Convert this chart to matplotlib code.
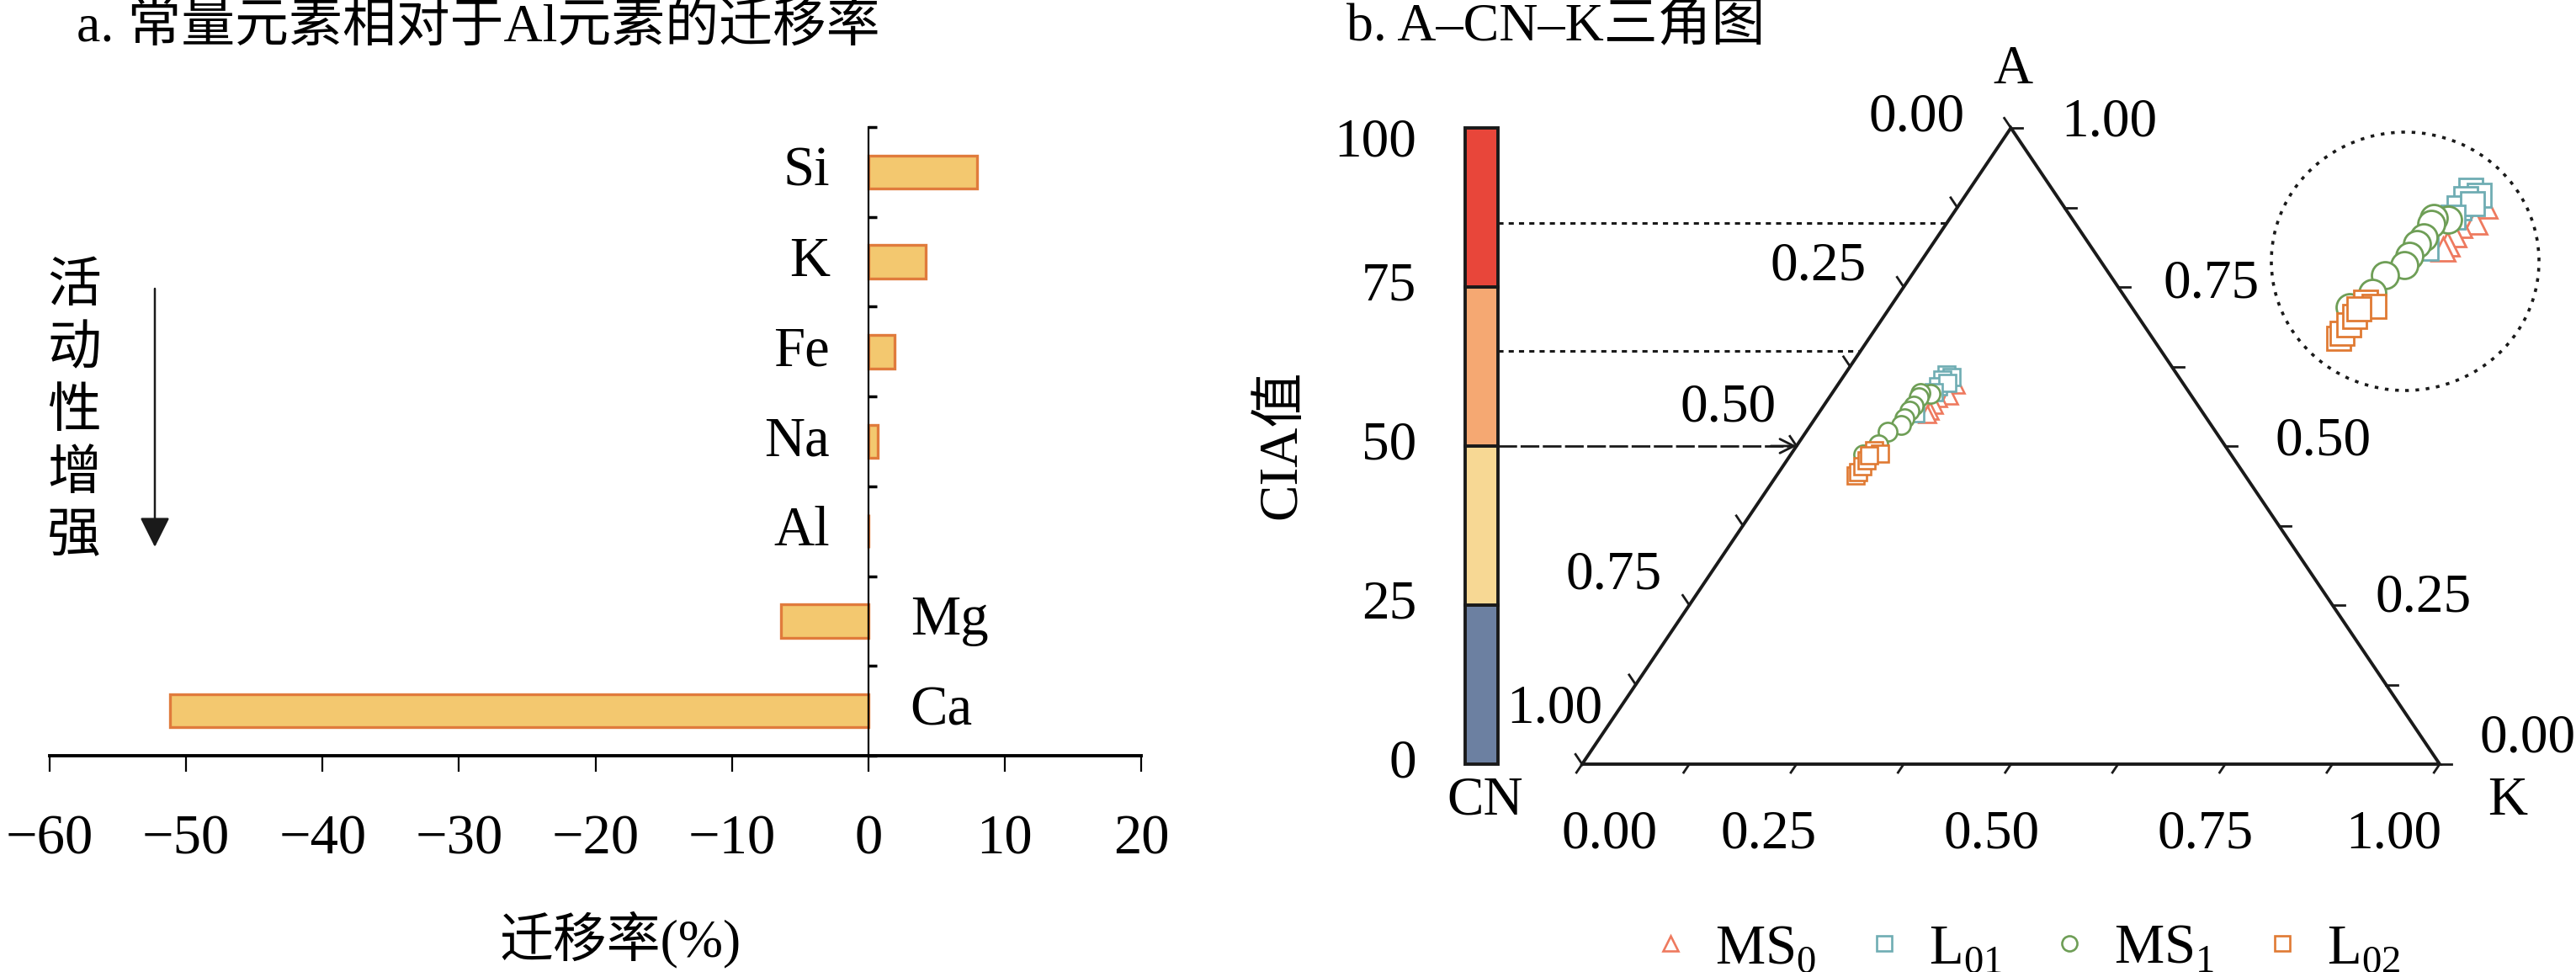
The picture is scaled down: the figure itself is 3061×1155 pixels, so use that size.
import numpy as np
import matplotlib
matplotlib.use('Agg')
import matplotlib.pyplot as plt
from matplotlib.patches import Rectangle, Ellipse
from matplotlib.lines import Line2D

plt.rcParams['font.family'] = ['Liberation Serif', 'Noto Sans CJK SC']
plt.rcParams['mathtext.fontset'] = 'custom'
plt.rcParams['mathtext.rm'] = 'Liberation Serif'

# ---- a. migration rate relative to Al ----
elements = ['Si', 'K', 'Fe', 'Na', 'Al', 'Mg', 'Ca']
migration = [8.0, 4.2, 1.9, 0.7, 0.0, -6.4, -51.2]
xticks_a = [-60, -50, -40, -30, -20, -10, 0, 10, 20]

# ---- b. A-CN-K ternary (percent A and K, CN = 100 - A - K) ----
ms0_A = [59.6, 57.9, 57.5, 56.5, 55.5, 55.0]
ms0_K = [13.8, 13.8, 12.8, 12.8, 12.8, 12.7]
l01_A = [61.3, 60.8, 60.4, 59.4, 59.9, 58.4, 55.1]
l01_K = [11.8, 12.7, 11.8, 11.8, 12.6, 11.8, 11.3]
ms1_A = [58.2, 58.3, 57.7, 56.3, 55.5, 54.3, 53.3, 52.2, 50.3, 48.7]
ms1_K = [11.5, 10.3, 10.4, 10.5, 10.4, 10.4, 10.5, 9.5, 9.4, 8.4]
l02_A = [45.4, 45.9, 46.8, 47.7, 49.3, 48.8, 48.6]
l02_K = [9.2, 9.2, 9.3, 9.3, 9.4, 10.3, 9.2]

cia_bounds = [0, 25, 50, 75, 100]
cia_colors = ['#6C80A1', '#F7D894', '#F5A872', '#E8463A']
cia_lines = [85, 65, 50]
tern_labels = ['0.00', '0.25', '0.50', '0.75', '1.00']

series = [
    ('MS$_{\\mathregular{0}}$', ms0_A, ms0_K, '^', '#EE7A5F'),
    ('L$_{\\mathregular{01}}$', l01_A, l01_K, 's', '#6FADB3'),
    ('MS$_{\\mathregular{1}}$', ms1_A, ms1_K, 'o', '#6E9E56'),
    ('L$_{\\mathregular{02}}$', l02_A, l02_K, 's', '#E07A33'),
]

W, H = 3061, 1155
fig = plt.figure(figsize=(W / 100, H / 100), dpi=100)


def px_rect(x0, y0, x1, y1):
    return [x0 / W, 1 - y1 / H, (x1 - x0) / W, (y1 - y0) / H]


def tern_xy(a, k):
    a = np.asarray(a) / 100.0
    k = np.asarray(k) / 100.0
    return k + a / 2, a


# ================= panel a =================
ax = fig.add_axes(px_rect(59, 151, 1356, 898))
ypos = np.arange(len(elements))
ax.barh(ypos, migration, height=0.37, color='#F3C86F', edgecolor='#E07B3C', linewidth=2.4)
ax.set_xlim(-60, 20)
ax.set_ylim(len(elements) - 0.5, -0.5)
ax.spines['left'].set_position(('data', 0))
ax.spines['top'].set_visible(False)
ax.spines['right'].set_visible(False)
ax.spines['bottom'].set_linewidth(2.8)
ax.spines['left'].set_linewidth(1.6)
ax.set_xticks(xticks_a)
ax.tick_params(axis='x', direction='out', length=14, width=1.6, pad=36, labelsize=48)
ax.set_yticks(np.arange(len(elements) + 1) - 0.5)
ax.set_yticklabels([])
ax.tick_params(axis='y', direction='in', length=7, width=2.5)
for y, name, v in zip(ypos, elements, migration):
    if v >= 0:
        ax.annotate(name, (0, y), xytext=(-33, 0), textcoords='offset points',
                    ha='right', va='center', fontsize=48)
    else:
        ax.annotate(name, (0, y), xytext=(36, 0), textcoords='offset points',
                    ha='left', va='center', fontsize=48)

# ================= panel b =================
x0, y0, sx, sy = 1880, 908, 1019, 756   # pixel of CN vertex, pixels per unit
left_px = 1439
ax2 = fig.add_axes(px_rect(left_px, 0, W, H))
ax2.set_xlim((left_px - x0) / sx, (W - x0) / sx)
ax2.set_ylim((y0 - H) / sy, y0 / sy)
ax2.axis('off')

ax2.plot([0, 1, 0.5, 0], [0, 0, 1, 0], color='#1a1a1a', lw=2.8, solid_joinstyle='miter')
for t in np.arange(0, 1.001, 0.125):
    ax2.plot([t, t - 0.0066], [0, -0.0132], color='#1a1a1a', lw=2.0)
    ax2.plot([1 - t / 2, 1 - t / 2 + 0.0137], [t, t], color='#1a1a1a', lw=2.0)
    ax2.plot([(1 - t) / 2, (1 - t) / 2 - 0.0077], [1 - t, 1 - t + 0.0154], color='#1a1a1a', lw=2.0)

# CIA colour bar
cb_x, cb_w = -0.1364, 0.0383
for lo, hi, c in zip(cia_bounds[:-1], cia_bounds[1:], cia_colors):
    ax2.add_patch(Rectangle((cb_x, lo / 100), cb_w, (hi - lo) / 100, facecolor=c,
                            edgecolor='#1a1a1a', lw=2.8, zorder=3))
for v in cia_bounds:
    ax2.text(cb_x - 0.057, min(v / 100, 0.977), str(v), ha='right', va='center', fontsize=47)

# guide lines from colour bar to the A-CN edge
for i, c in enumerate(cia_lines):
    yy = c / 100
    if i < 2:
        ax2.plot([cb_x + cb_w, yy / 2], [yy, yy], color='#1a1a1a', lw=2.2, linestyle=(0, (2, 2)))
    else:
        ax2.plot([cb_x + cb_w, yy / 2 - 0.01], [yy, yy], color='#1a1a1a', lw=2.0, linestyle=(0, (8, 1.5)))
        ax2.annotate('', xy=(yy / 2, yy), xytext=(yy / 2 - 0.03, yy),
                     arrowprops=dict(arrowstyle='->', lw=2.0, color='#1a1a1a', mutation_scale=30,
                                     shrinkA=0, shrinkB=0))

# data points
handles = []
for label, a, k, m, c in series:
    xs, ys = tern_xy(a, k)
    ms = 16 if m == 'o' else 15
    ax2.plot(xs, ys, linestyle='none', marker=m, ms=ms, mfc='white', mec=c, mew=1.9)
    handles.append(Line2D([], [], linestyle='none', marker=m, ms=13, mfc='white', mec=c, mew=1.9))

# magnified inset
ax3 = fig.add_axes(px_rect(2699, 157, 3017, 464))
ax3.set_xlim(0.2650, 0.4787)
ax3.set_ylim(0.3977, 0.6758)
ax3.axis('off')
for label, a, k, m, c in series:
    xs, ys = tern_xy(a, k)
    ms = 23 if m == 'o' else 20
    ax3.plot(xs, ys, linestyle='none', marker=m, ms=ms, mfc='white', mec=c, mew=2.0, clip_on=False)
ax3.add_patch(Ellipse((0.5, 0.5), 1, 1, transform=ax3.transAxes, fill=False,
                      edgecolor='#1a1a1a', lw=2.6, linestyle=(0, (1.2, 2.2)), clip_on=False))

fig.legend(handles, [s[0] for s in series], loc='center', bbox_to_anchor=(2402 / W, 1 - 1128 / H),
           ncol=4, frameon=False, fontsize=48, handletextpad=0.3, columnspacing=0.7,
           handlelength=1.0)

# ================= free text (pixel coordinates) =================
ov = fig.add_axes([0, 0, 1, 1], facecolor='none')
ov.set_xlim(0, W)
ov.set_ylim(H, 0)
ov.axis('off')

ov.text(91, 33, 'a. 常量元素相对于Al元素的迁移率', fontsize=46, va='center', ha='left')
ov.text(1600, 33, 'b. A–CN–K三角图', fontsize=46, va='center', ha='left')
ov.text(737, 1117, '迁移率(%)', fontsize=46, va='center', ha='center')
for ch, yy in zip('活动性增强', np.linspace(343, 640, 5)):
    ov.text(88, yy, ch, fontsize=46, ha='center', va='center')
ov.annotate('', xy=(184, 650), xytext=(184, 343),
            arrowprops=dict(arrowstyle='-|>', lw=1.8, color='#1a1a1a', mutation_scale=55,
                            shrinkA=0, shrinkB=0))

ov.text(1523, 528, 'CIA值', fontsize=47, rotation=90, ha='center', va='center')
ov.text(1765, 952, 'CN', fontsize=47, ha='center', va='center')
ov.text(2392, 83, 'A', fontsize=47, ha='center', va='center')
ov.text(2980, 952, 'K', fontsize=47, ha='center', va='center')

left_lbl_px = [(2278, 140), (2161, 317), (2054, 485), (1918, 684), (1847, 843)]
right_lbl_px = [(2506, 146), (2628, 338), (2761, 525), (2880, 711), (3004, 878)]
bottom_lbl_px = [(1913, 992), (2102, 992), (2367, 992), (2621, 992), (2844, 992)]
for (px, py), s in zip(left_lbl_px, tern_labels):
    ov.text(px, py, s, fontsize=47, ha='center', va='center')
for (px, py), s in zip(right_lbl_px, tern_labels[::-1]):
    ov.text(px, py, s, fontsize=47, ha='center', va='center')
for (px, py), s in zip(bottom_lbl_px, tern_labels):
    ov.text(px, py, s, fontsize=47, ha='center', va='center')

fig.savefig('out.png', dpi=100)
